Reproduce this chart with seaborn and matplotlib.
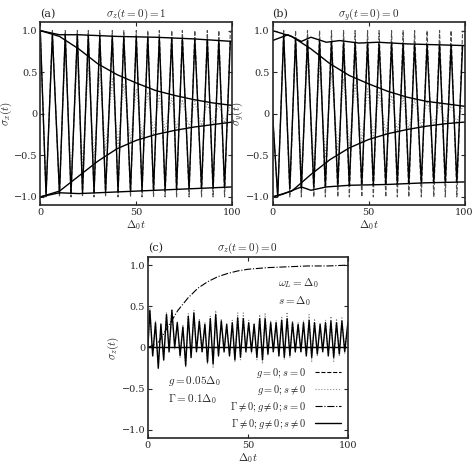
import numpy as np
import pandas as pd
import seaborn as sns
import matplotlib.pyplot as plt

sns.set_style("ticks")
plt.rcParams['font.family'] = ['DejaVu Serif']
plt.rcParams['mathtext.fontset'] = 'cm'

# ---- panel (a): sigma_z(0)=1 ----
ta = [0, 3, 6.3, 10, 13, 16, 19.3, 22, 25, 28, 31, 34, 37.5, 40.5, 43.5, 47, 50, 53, 56, 59,
      62, 65, 68.5, 71, 74, 77.5, 80.5, 84, 87, 90, 93, 96, 99]
a_free = [1, -1, 1, -1, 1, -1, 1, -1, 1, -1, 1, -1, 1, -1, 1, -1, 1, -1, 1, -1,
          1, -1, 1, -1, 1, -1, 1, -1, 1, -1, 1, -1, 1]
a_s = [1, -0.97, 0.95, -0.96, 0.95, -0.96, 0.95, -0.95, 0.94, -0.95, 0.93, -0.94, 0.93, -0.93,
       0.92, -0.93, 0.92, -0.92, 0.92, -0.92, 0.91, -0.91, 0.91, -0.9, 0.9, -0.9, 0.89, -0.89,
       0.89, -0.89, 0.88, -0.88, 0.87]
a_damp = [1, -0.97, 0.88, -0.85, 0.78, -0.73, 0.66, -0.62, 0.57, -0.53, 0.49, -0.45, 0.42, -0.39,
          0.36, -0.33, 0.3, -0.28, 0.26, -0.24, 0.22, -0.21, 0.19, -0.18, 0.17, -0.16, 0.15,
          -0.14, 0.13, -0.12, 0.12, -0.11, 0.1]
env_t = [0, 10, 20, 30, 40, 50, 60, 70, 80, 90, 100]
a_env_up = [1, 0.93, 0.78, 0.6, 0.47, 0.37, 0.28, 0.22, 0.17, 0.13, 0.1]
a_env_lo = [-1, -0.93, -0.75, -0.57, -0.42, -0.32, -0.25, -0.2, -0.16, -0.13, -0.1]
a_top_t = [0, 10, 20, 40, 60, 80, 100]
a_top = [1, 0.95, 0.95, 0.93, 0.92, 0.9, 0.87]
a_bot = [-1, -0.95, -0.96, -0.94, -0.92, -0.9, -0.88]

# ---- panel (b): sigma_y(0)=0 ----
tb = [0, 2.7, 5.8, 9, 12, 15, 18.2, 21.5, 24.5, 27.5, 30.7, 34, 37, 40, 43, 46.5, 49.5, 52.5,
      55.5, 59, 62, 65, 68, 71, 74, 77.5, 80.5, 84, 87, 90, 93, 96, 99]
b_free = [0, -1, 1, -1, 1, -1, 1, -1, 1, -1, 1, -1, 1, -1, 1, -1, 1, -1,
          1, -1, 1, -1, 1, -1, 1, -1, 1, -1, 1, -1, 1, -1, 1]
b_s = [0, -1, 0.95, -0.9, 0.9, -0.9, 0.88, -0.88, 0.87, -0.87, 0.86, -0.86, 0.85, -0.86, 0.85,
       -0.85, 0.84, -0.85, 0.84, -0.85, 0.84, -0.84, 0.83, -0.84, 0.83, -0.83, 0.83, -0.83, 0.82,
       -0.83, 0.82, -0.82, 0.82]
b_damp = [0, -0.97, 0.9, -0.85, 0.8, -0.73, 0.68, -0.62, 0.58, -0.53, 0.5, -0.45, 0.42, -0.39,
          0.36, -0.33, 0.3, -0.28, 0.26, -0.24, 0.22, -0.21, 0.19, -0.18, 0.17, -0.16, 0.15,
          -0.14, 0.13, -0.12, 0.11, -0.1, 0.09]
b_env_up = [1, 0.93, 0.78, 0.6, 0.46, 0.36, 0.27, 0.2, 0.15, 0.12, 0.09]
b_env_lo = [-1, -0.93, -0.73, -0.55, -0.41, -0.31, -0.24, -0.19, -0.15, -0.12, -0.1]
b_top_t = [0, 8, 15, 20, 28, 35, 45, 55, 70, 85, 100]
b_top = [0.88, 0.95, 0.87, 0.92, 0.86, 0.88, 0.85, 0.86, 0.84, 0.83, 0.82]
b_bot_t = [0, 5, 15, 20, 28, 40, 60, 80, 100]
b_bot = [-1, -0.97, -0.88, -0.92, -0.88, -0.86, -0.85, -0.83, -0.82]

# ---- panel (c): sigma_z(0)=0 ----
tc = [0, 1, 2.4, 3.8, 5.2, 6.5, 7.9, 9.3, 10.6, 12, 13.4, 14.7, 16.1, 17.5, 18.9, 20.2, 21.6, 23,
      24.3, 25.7, 27.1, 28.5, 29.8, 31.2, 32.6, 33.9, 35.3, 36.7, 38.1, 39.4, 40.8, 42.2, 43.5,
      44.9, 46.3, 47.7, 49, 50.4, 51.8, 53.1, 54.5, 55.9, 57.3, 58.6, 60, 61.4, 62.7, 64.1, 65.5,
      66.9, 68.2, 69.6, 71, 72.3, 73.7, 75.1, 76.5, 77.8, 79.2, 80.6, 81.9, 83.3, 84.7, 86.1,
      87.4, 88.8, 90.2, 91.5, 92.9, 94.3, 95.7, 97, 98.4, 100]
c_s = [0, 0.45, -0.1, 0.3, -0.25, 0.28, -0.15, 0.4, -0.05, 0.45, 0, 0.3, -0.1, 0.25, -0.22,
       0.38, -0.12, 0.42, -0.05, 0.32, -0.05, 0.28, -0.18, 0.35, -0.2, 0.4, -0.1, 0.32, -0.05,
       0.28, -0.1, 0.3, -0.15, 0.36, -0.12, 0.35, -0.05, 0.3, -0.05, 0.28, -0.12, 0.35, -0.15,
       0.35, -0.08, 0.3, -0.05, 0.3, -0.1, 0.33, -0.12, 0.35, -0.1, 0.3, -0.05, 0.28, -0.05, 0.3,
       -0.1, 0.33, -0.12, 0.3, -0.08, 0.28, -0.05, 0.3, -0.1, 0.32, -0.12, 0.3, -0.08, 0.32,
       -0.05, 0.3]
c_gs = [0, 0.47, -0.12, 0.32, -0.27, 0.3, -0.17, 0.43, -0.07, 0.47, -0.02, 0.32, -0.12, 0.27,
        -0.25, 0.41, -0.14, 0.45, -0.07, 0.34, -0.07, 0.3, -0.2, 0.38, -0.25, 0.45, -0.12, 0.35,
        -0.07, 0.3, -0.12, 0.33, -0.18, 0.42, -0.15, 0.42, -0.07, 0.33, -0.07, 0.3, -0.15, 0.4,
        -0.2, 0.42, -0.1, 0.33, -0.07, 0.33, -0.12, 0.38, -0.15, 0.43, -0.12, 0.33, -0.07, 0.3,
        -0.07, 0.33, -0.12, 0.4, -0.17, 0.35, -0.1, 0.3, -0.07, 0.33, -0.12, 0.38, -0.17, 0.35,
        -0.1, 0.36, -0.07, 0.33]
c_rise_t = [0, 5, 10, 15, 20, 25, 30, 35, 40, 45, 50, 60, 70, 80, 90, 100]
c_rise = [0, 0.05, 0.25, 0.45, 0.6, 0.72, 0.8, 0.86, 0.9, 0.93, 0.95, 0.97, 0.98, 0.99, 0.99, 1.0]
c_zero_t = [0, 100]
c_zero = [0, 0]

fig = plt.figure(figsize=(4.74, 4.74), dpi=100)
axa = fig.add_axes([0.085, 0.567, 0.405, 0.386])
axb = fig.add_axes([0.575, 0.567, 0.405, 0.386])
axc = fig.add_axes([0.312, 0.076, 0.422, 0.382])


def osc_panel(ax, t, free, s, damp, env_up, env_lo, top_t, top, bot_t, bot):
    sns.lineplot(x=t, y=free, ax=ax, color='0.3', lw=0.8, ls='--')
    sns.lineplot(x=t, y=damp, ax=ax, color='0.55', lw=0.8, ls=':')
    sns.lineplot(x=t, y=s, ax=ax, color='k', lw=1.0)
    sns.lineplot(x=env_t, y=env_up, ax=ax, color='k', lw=1.0)
    sns.lineplot(x=env_t, y=env_lo, ax=ax, color='k', lw=1.0)
    sns.lineplot(x=top_t, y=top, ax=ax, color='k', lw=1.0)
    sns.lineplot(x=bot_t, y=bot, ax=ax, color='k', lw=1.0)


osc_panel(axa, ta, a_free, a_s, a_damp, a_env_up, a_env_lo, a_top_t, a_top, a_top_t, a_bot)
osc_panel(axb, tb, b_free, b_s, b_damp, b_env_up, b_env_lo, b_top_t, b_top, b_bot_t, b_bot)

sns.lineplot(x=c_zero_t, y=c_zero, ax=axc, color='k', lw=0.8, ls='--', label=r'$g=0;s=0$')
sns.lineplot(x=tc, y=c_gs, ax=axc, color='0.55', lw=0.8, ls=':', label=r'$g=0;s\neq0$')
sns.lineplot(x=c_rise_t, y=c_rise, ax=axc, color='k', lw=0.8, ls='-.',
             label=r'$\Gamma\neq0;g\neq0;s=0$')
sns.lineplot(x=tc, y=c_s, ax=axc, color='k', lw=1.0, label=r'$\Gamma\neq0;g\neq0;s\neq0$')
axc.plot([0, 100], [0, 0], color='k', lw=1.0)
leg = axc.legend(loc='lower right', frameon=False, fontsize=7.5, markerfirst=False,
                 handlelength=2.5, borderaxespad=0.3, labelspacing=0.35)
axc.text(0.65, 0.84, r'$\omega_L=\Delta_0$', transform=axc.transAxes, fontsize=8)
axc.text(0.65, 0.74, r'$s=\Delta_0$', transform=axc.transAxes, fontsize=8)
axc.text(0.1, 0.3, r'$g=0.05\Delta_0$', transform=axc.transAxes, fontsize=8)
axc.text(0.1, 0.2, r'$\Gamma=0.1\Delta_0$', transform=axc.transAxes, fontsize=8)

titles = [(axa, '(a)', r'$\sigma_z(t=0)=1$', r'$\sigma_x(t)$'),
          (axb, '(b)', r'$\sigma_y(t=0)=0$', r'$\sigma_y(t)$'),
          (axc, '(c)', r'$\sigma_z(t=0)=0$', r'$\sigma_z(t)$')]
for ax, lab, tit, yl in titles:
    ax.set_xlim(0, 100)
    ax.set_ylim(-1.1, 1.1)
    ax.set_xticks([0, 50, 100])
    ax.set_yticks([-1.0, -0.5, 0, 0.5, 1.0])
    ax.set_yticklabels(['\u22121.0', '\u22120.5', '0', '0.5', '1.0'])
    ax.tick_params(direction='in', labelsize=7, length=3, top=True, right=True, pad=2)
    for sp in ax.spines.values():
        sp.set_linewidth(1.2)
    ax.set_xlabel(r'$\Delta_0 t$', fontsize=8, labelpad=1)
    ax.set_ylabel(yl, fontsize=8, labelpad=0)
    ax.set_title(tit, fontsize=8, pad=4)
    ax.text(0.0, 1.03, lab, transform=ax.transAxes, fontsize=8)
    if ax is not axc and ax.get_legend():
        ax.get_legend().remove()

fig.savefig('out.png', dpi=100)
